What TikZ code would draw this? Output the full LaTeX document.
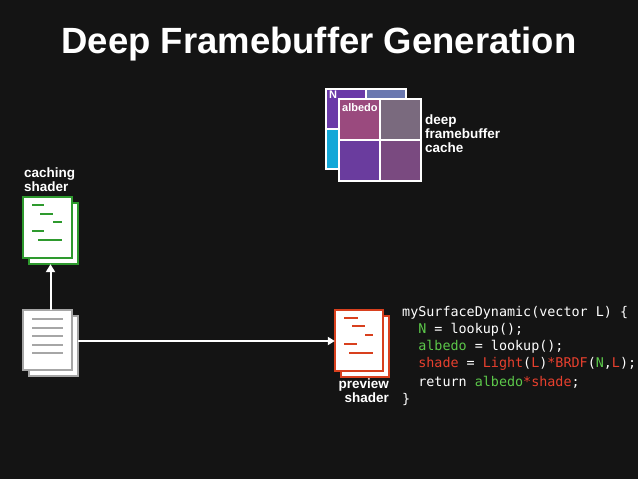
\documentclass[tikz,border=0pt]{standalone}
\usepackage{fontspec}
\setmainfont{Liberation Sans}
\newfontfamily\codefont{DejaVu Sans Mono}
\usetikzlibrary{arrows.meta}
\definecolor{bg}{HTML}{141414}
\definecolor{cgreen}{HTML}{5CC84A}
\definecolor{cred}{HTML}{E8402E}
\definecolor{dgreen}{HTML}{2E9A2E}
\definecolor{dred}{HTML}{D8401E}
\definecolor{fbA}{HTML}{6A3AA8}
\definecolor{fbB}{HTML}{6A78B0}
\definecolor{fbC}{HTML}{12A8D8}
\definecolor{fbD}{HTML}{9A4A7E}
\definecolor{fbE}{HTML}{7A6A7E}
\definecolor{fbF}{HTML}{6A3C9E}
\definecolor{fbG}{HTML}{7A4A80}
\begin{document}
\begin{tikzpicture}[x=1pt,y=-1pt,
  lbl/.style={text=white,font=\bfseries\fontsize{13.5}{14}\selectfont,align=left,inner sep=0},
  page/.style={draw=#1,line width=2pt,fill=white},
  code/.style={text=white,font=\codefont\fontsize{13.4}{17}\selectfont,anchor=west,inner sep=0}]
\fill[bg] (0,0) rectangle (638,479);
\useasboundingbox (0,0) rectangle (638,479);
\node[text=white,font=\bfseries\fontsize{36.5}{40}\selectfont] (title) at (319,44) {Deep Framebuffer Generation};
% caching shader
\node[lbl,anchor=north west] (cl) at (24,168) {caching\\shader};
\draw[page=dgreen] (29,203) rectangle (78,264);
\draw[page=dgreen] (23,197) rectangle (72,258);
\node[inner sep=0,minimum width=55pt,minimum height=67pt] (cs) at (50.5,230.5) {};
\foreach \a/\b/\y in {32/44/205,40/53/214,53/62/222,32/44/231,38/62/240}
  \draw[dgreen,line width=1.6pt] (\a,\y) -- (\b,\y);
% generic doc
\draw[page=gray!70] (29,316) rectangle (78,376);
\draw[page=gray!70] (23,310) rectangle (72,370);
\node[inner sep=0,minimum width=55pt,minimum height=66pt] (gd) at (50.5,343) {};
\foreach \y in {319,328,336,345,353}
  \draw[gray!70,line width=1.6pt] (32,\y) -- (63,\y);
% preview shader
\draw[page=dred] (341,316) rectangle (389,377);
\draw[page=dred] (335,310) rectangle (383,371);
\node[inner sep=0,minimum width=54pt,minimum height=67pt] (ps) at (362,343.5) {};
\foreach \a/\b/\y in {344/358/318,352/365/326,365/373/335,344/357/344,349/373/353}
  \draw[dred,line width=1.6pt] (\a,\y) -- (\b,\y);
\node[lbl,align=right,anchor=north east] (pl) at (389,379) {preview\\shader};
% connectors
\draw[white,line width=2pt,-{Triangle[length=8pt,width=9pt]}] (gd.north) -- (cs.south);
\draw[white,line width=2pt,-{Triangle[length=7pt,width=8pt]}] (gd.east |- 0,341) -- (ps.west |- 0,341);
% framebuffer cache
\fill[white] (325,88) rectangle (407,170);
\fill[fbA] (327,90) rectangle (365,128);
\fill[fbB] (367,90) rectangle (405,128);
\fill[fbC] (327,130) rectangle (365,168);
\node[text=white,font=\bfseries\fontsize{11}{11}\selectfont,anchor=north west,inner sep=0] (nl) at (329,91) {N};
\fill[white] (338,98) rectangle (422,182);
\fill[fbD] (340,100) rectangle (379,139);
\fill[fbE] (381,100) rectangle (420,139);
\fill[fbF] (340,141) rectangle (379,180);
\fill[fbG] (381,141) rectangle (420,180);
\node[text=white,font=\bfseries\fontsize{11}{11}\selectfont,anchor=north west,inner sep=0] (al) at (342,103) {albedo};
\node[lbl,anchor=north west,font=\bfseries\fontsize{13.5}{14}\selectfont] (dl) at (425,115) {deep\\framebuffer\\cache};
% code
\node[code] (c1) at (402,313) {mySurfaceDynamic(vector L) \{};
\node[code] (c2) at (402,330) {\ \ \textcolor{cgreen}{N} = lookup();};
\node[code] (c3) at (402,347) {\ \ \textcolor{cgreen}{albedo} = lookup();};
\node[code] (c4) at (402,364) {\ \ \textcolor{cred}{shade} = \textcolor{cred}{Light}(\textcolor{cred}{L})\textcolor{cred}{*BRDF}(\textcolor{cgreen}{N},\textcolor{cred}{L});};
\node[code] (c5) at (402,382) {\ \ return \textcolor{cgreen}{albedo}\textcolor{cred}{*shade};};
\node[code] (c6) at (402,399) {\}};
\end{tikzpicture}
\end{document}
